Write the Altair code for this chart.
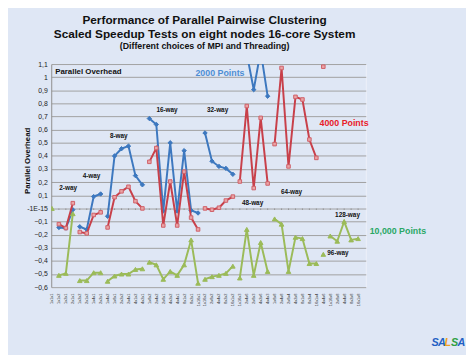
import altair as alt
import pandas as pd

# ---------------- data ----------------
labels = ["1x1x1",
          "1x1x2", "1x2x1", "2x1x1",
          "1x2x2", "2x1x2", "1x4x1", "2x2x1",
          "1x4x2", "1x8x1", "2x2x2", "2x4x1", "4x1x2", "4x2x1",
          "1x8x2", "2x4x2", "2x8x1", "4x2x2", "4x4x1", "8x1x2", "8x2x1", "1x16x1",
          "1x16x2", "2x8x2", "4x4x2", "8x2x2", "16x1x2",
          "1x16x3", "2x4x6", "2x8x3", "4x2x6", "4x4x3",
          "1x8x8", "2x4x8", "2x8x4", "4x2x8", "8x1x8", "8x2x4", "16x1x4",
          "4x4x6",
          "1x16x8", "2x8x8", "4x4x8", "8x2x8", "16x1x8"]

groups = ([0] + [1] * 3 + [2] * 4 + [3] * 6 + [4] * 8 + [5] * 5 + [6] * 5 + [7] * 7 + [8] + [9] * 5)

blue_2000 = [None,
             -0.145, -0.15, -0.01,
             -0.14, -0.16, 0.09, 0.11,
             -0.06, 0.40, 0.455, 0.475, 0.25, 0.18,
             0.685, 0.64, -0.02, 0.50, -0.02, 0.44, -0.015, -0.035,
             0.575, 0.36, 0.32, 0.305, 0.26,
             None, 1.18, 0.905, 1.2, 0.855,
             None, None, None, None, None, None, None,
             None,
             None, None, None, None, None]

red_4000 = [None,
            -0.12, -0.15, 0.04,
            -0.18, -0.19, -0.05, -0.03,
            -0.145, 0.085, 0.13, 0.165, 0.055, 0.0,
            0.355, 0.46, -0.13, 0.205, -0.13, 0.28, -0.07, -0.16,
            0.0, -0.01, 0.005, 0.06, 0.09,
            0.205, 0.78, 0.155, 0.69, 0.19,
            0.49, 1.07, 0.32, 0.85, 0.83, 0.525, 0.385,
            1.08,
            None, None, None, None, None]

green_10000 = [0.0,
               -0.51, -0.495, -0.04,
               -0.55, -0.55, -0.49, -0.49,
               -0.555, -0.515, -0.50, -0.50, -0.465, -0.46,
               -0.41, -0.43, -0.54, -0.48, -0.51, -0.43, -0.24, -0.57,
               -0.54, -0.52, -0.51, -0.495, -0.44,
               -0.53, -0.16, -0.51, -0.26, -0.48,
               -0.08, -0.12, -0.48, -0.22, -0.23, -0.42, -0.42,
               -0.35,
               -0.21, -0.25, -0.10, -0.24, -0.23]

y_ticks = [round(-0.6 + 0.1 * k, 1) for k in range(18)]

way_text = ["2-way", "4-way", "8-way", "16-way", "32-way", "48-way", "64-way", "96-way", "128-way"]
way_x = [2.33, 5.69, 9.6, 16.54, 23.8, 28.83, 34.43, 41.1, 42.48]
way_y = [0.157, 0.249, 0.548, 0.75, 0.75, 0.039, 0.127, -0.343, -0.049]

series_text = ["2000 Points", "4000 Points", "10,000 Points"]
series_x = [24.15, 38.46, 45.66]
series_y = [1.035, 0.648, -0.176]

title_lines = ["Performance of Parallel Pairwise Clustering",
               "Scaled Speedup Tests on eight nodes 16-core System",
               "(Different choices of MPI and Threading)"]

# ---------------- build ----------------
FONT = "Liberation Sans"
W, H = 320, 227

def series_df(vals):
    rows = [{"idx": i, "grp": groups[i], "value": v} for i, v in enumerate(vals) if v is not None]
    return pd.DataFrame(rows)

label_js = "[" + ",".join("'" + s + "'" for s in labels) + "]"

x_enc = alt.X("idx:Q",
              scale=alt.Scale(domain=[-0.1, 45.1], nice=False, zero=False),
              axis=alt.Axis(values=list(range(len(labels))), labelExpr=label_js + "[datum.value]",
                            labelAngle=270, labelFontSize=4, labelPadding=6, labelOverlap=False,
                            labelFlush=False, domain=False, ticks=False, grid=False, title=None,
                            labelColor="#333333", labelFont=FONT))
y_enc = alt.Y("value:Q",
              scale=alt.Scale(domain=[-0.6, 1.1], nice=False, zero=False),
              axis=alt.Axis(values=y_ticks,
                            labelExpr="abs(datum.value) < 1e-9 ? '-1E-15' : replace(format(datum.value, '.1~f'), '.', ',')",
                            labelFontSize=7, labelFont=FONT, labelColor="#222222", labelPadding=4,
                            labelOverlap=False, labelFlush=False, labelBound=False,
                            ticks=False, domainColor="#8a8a8a", grid=True, gridColor="#a0a0a0",
                            gridWidth=1, gridOpacity=1,
                            title="Parallel Overhead", titleFont=FONT, titleFontSize=8,
                            titleFontWeight="bold", titleX=-24, titleY=98, titleAngle=270,
                            titleAlign="center", titleBaseline="middle", titleColor="#111111"))

layers = []

specs = [
    (blue_2000, "#3d78bf", "diamond", "#3d78bf", "#3d78bf", 20),
    (red_4000, "#c8404a", "square", "#eaa4a6", "#cf6068", 13),
    (green_10000, "#9bbb59", "triangle-up", "#9bbb59", "#9bbb59", 22),
]
for vals, col, shape, fill, stroke, size in specs:
    d = series_df(vals)
    base = alt.Chart(d)
    layers.append(base.mark_line(color=col, strokeWidth=2, clip=True).encode(
        x=x_enc, y=y_enc, detail="grp:N"))
    layers.append(base.mark_point(shape=shape, filled=True, fill=fill, stroke=stroke,
                                  strokeWidth=1, size=size, opacity=1, clip=True).encode(
        x=x_enc, y=y_enc))

# category ticks along zero line
tick_df = pd.DataFrame({"idx": list(range(len(labels))), "value": [0.0] * len(labels),
                        "value2": [-0.012] * len(labels)})
layers.insert(0, alt.Chart(tick_df).mark_rule(color="#8a8a8a", strokeWidth=0.8).encode(
    x=x_enc, y=y_enc, y2="value2:Q"))

# "way" annotations
way_df = pd.DataFrame({"idx": way_x, "value": way_y, "t": way_text})
layers.append(alt.Chart(way_df).mark_text(font=FONT, fontSize=6.5, fontWeight="bold",
                                          color="#111111").encode(x=x_enc, y=y_enc, text="t:N"))

# series annotations
s_colors = ["#4e8ed4", "#e8202a", "#2aa866"]
s_align = ["center", "left", "left"]
for k in range(3):
    sd = pd.DataFrame({"idx": [series_x[k]], "value": [series_y[k]], "t": [series_text[k]]})
    layers.append(alt.Chart(sd).mark_text(font=FONT, fontSize=9, fontWeight="bold",
                                          color=s_colors[k], align=s_align[k]).encode(
        x=x_enc, y=y_enc, text="t:N"))

# in-plot heading
ph = pd.DataFrame({"t": ["Parallel Overhead"]})
layers.append(alt.Chart(ph).mark_text(font=FONT, fontSize=8, fontWeight="bold", color="#111111",
                                      align="left", baseline="middle").encode(
    x=alt.value(4), y=alt.value(8), text="t:N"))

# title lines
t_sizes = [12, 12, 9]
t_y = [-45, -30, -18]
for k in range(3):
    td = pd.DataFrame({"t": [title_lines[k]]})
    layers.append(alt.Chart(td).mark_text(font=FONT, fontSize=t_sizes[k], fontWeight="bold",
                                          color="#111111", align="center", baseline="middle").encode(
        x=alt.value(156), y=alt.value(t_y[k]), text="t:N"))

# SALSA logo
salsa = ["S", "A", "L", "S", "A"]
salsa_colors = ["#1f5fc4", "#1f5fc4", "#f0a020", "#2ea043", "#1f5fc4"]
for k in range(5):
    ld = pd.DataFrame({"t": [salsa[k]]})
    layers.append(alt.Chart(ld).mark_text(font=FONT, fontSize=11, fontWeight="bold", fontStyle="italic",
                                          color=salsa_colors[k], align="left", baseline="middle").encode(
        x=alt.value(387 + k * 6.6), y=alt.value(284), text="t:N"))

chart = alt.layer(*layers).properties(
    width=W, height=H,
    autosize=alt.AutoSizeParams(type="none"),
    padding={"left": 44, "top": 54, "right": 102, "bottom": 66},
    background="#dfe7f5",
).configure_view(stroke="#eef2fa", strokeWidth=1)

chart.save("out.html", embed_options={"renderer": "svg", "actions": False})
